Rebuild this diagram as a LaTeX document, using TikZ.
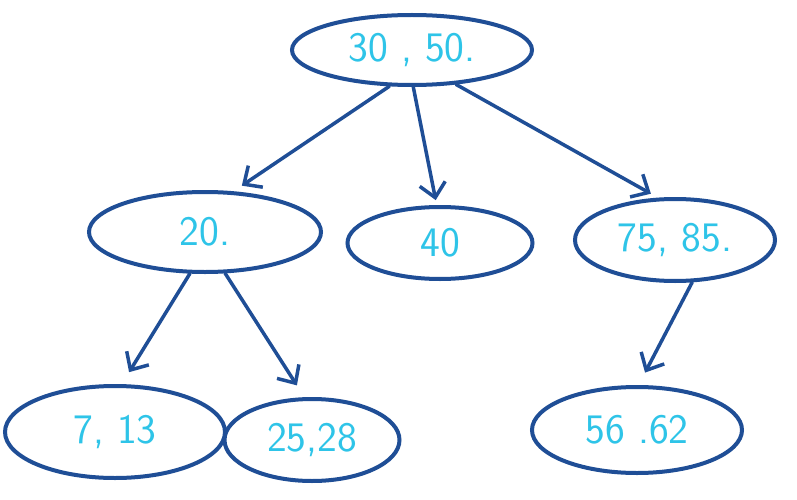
\documentclass[tikz,border=0pt]{standalone}
\usetikzlibrary{shapes.geometric,arrows.meta}
\definecolor{edge}{HTML}{1F4E96}
\definecolor{txt}{HTML}{2EC4E8}
\tikzset{
  keynode/.style={ellipse,draw=edge,line width=4pt,text=txt,font=\sffamily\fontsize{42}{44}\selectfont,inner sep=0pt},
  link/.style={draw=edge,line width=3.5pt,line cap=round,-{Straight Barb[length=14pt,width=26pt]}}
}
\begin{document}
\begin{tikzpicture}[x=1pt,y=1pt]
\useasboundingbox[fill=white] (0,0) rectangle (797,-500);
\node[keynode,minimum width=240,minimum height=70] (r) at (412,-50) {30 , 50.};
\node[keynode,minimum width=232,minimum height=80] (a) at (205,-232) {20.};
\node[keynode,minimum width=185,minimum height=72] (b) at (440,-243) {40};
\node[keynode,minimum width=200,minimum height=82] (c) at (675,-240) {75, 85.};
\node[keynode,minimum width=220,minimum height=92] (d) at (115,-432) {7, 13};
\node[keynode,minimum width=175,minimum height=82] (e) at (312,-440) {25,28};
\node[keynode,minimum width=210,minimum height=86] (f) at (637,-430) {56 .62};
\draw[link,shorten >=10pt] (r.238) -- (a.55);
\draw[link,shorten >=5pt] (r.272) -- (b.95);
\draw[link,shorten >=8pt] (r.322) -- (c.112);
\draw[link,shorten >=14pt] (a.250) -- (d.82);
\draw[link,shorten >=14pt] (a.296) -- (e.100);
\draw[link,shorten >=14pt] (c.292) -- (f.88);
\end{tikzpicture}
\end{document}
